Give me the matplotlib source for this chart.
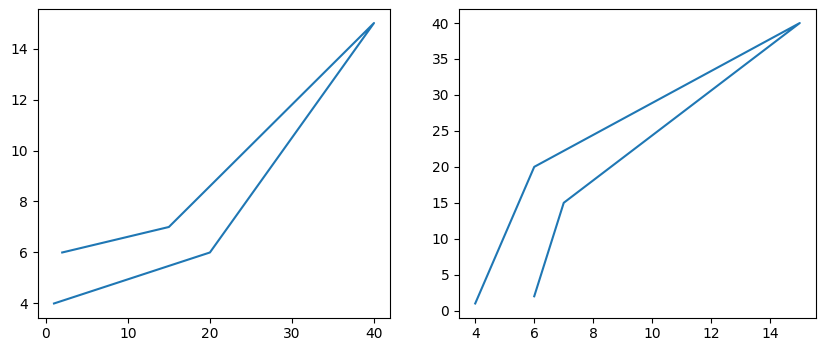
import matplotlib
matplotlib.use("Agg")
import matplotlib.pyplot as plt

x = [1, 20, 40, 15, 2]
y = [4, 6, 15, 7, 6]

fig = plt.figure(figsize=(8.22, 3.51), dpi=100)
ax1 = fig.add_axes([38/822, 1 - 317.5/351, (390-38)/822, (317.5-9)/351])
ax2 = fig.add_axes([459/822, 1 - 317.5/351, (816-459)/822, (317.5-9)/351])

ax1.plot(x, y)
ax2.plot(y, x)

fig.savefig("out.png", dpi=100)
